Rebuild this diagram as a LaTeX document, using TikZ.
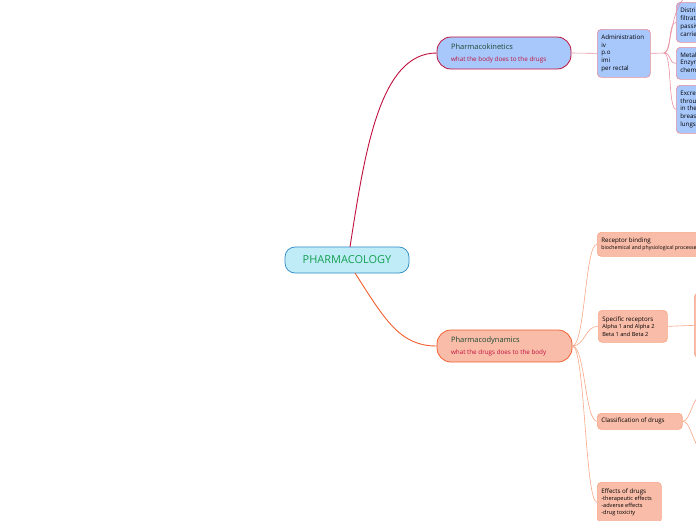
\documentclass[tikz,border=0pt]{standalone}
\usepackage{fontspec}
\setmainfont{Open Sans}
\begin{document}
\begin{tikzpicture}[x=1pt,y=-1pt,
  kbox/.style={draw=pkline,fill=kfill,rounded corners=4pt,line width=0.7pt,inner xsep=4pt,inner ysep=3pt,align=flush left,anchor=north west,font=\fontsize{6.2}{7.8}\selectfont},
  dbox/.style={draw=dline,fill=dfill,rounded corners=4pt,line width=0.7pt,inner xsep=4pt,inner ysep=3pt,align=flush left,anchor=north west,font=\fontsize{6.2}{7.8}\selectfont},
  kedge/.style={draw=pkline,line width=0.6pt},
  dedge/.style={draw=dline,line width=0.6pt}]
\definecolor{kfill}{HTML}{A8C8FC}
\definecolor{pkline}{HTML}{E890A0}
\definecolor{dfill}{HTML}{F8BCA8}
\definecolor{dline}{HTML}{F8A888}
\definecolor{crim}{HTML}{C0103C}
\definecolor{orr}{HTML}{F06030}
\definecolor{tgreen}{HTML}{1A4A30}
\definecolor{tred}{HTML}{C0103C}
\useasboundingbox (0,0) rectangle (696,520);
\clip (0,0) rectangle (696,520);
\fill[white] (0,0) rectangle (696,520);
% root
\node[draw={rgb,255:red,42;green,138;blue,200},fill={rgb,255:red,192;green,236;blue,248},rounded corners=10pt,line width=0.7pt,minimum width=124pt,minimum height=26pt,font=\fontsize{11}{12}\selectfont,text={rgb,255:red,20;green,160;blue,80}] (root) at (347,260) {PHARMACOLOGY};
% main branches
\node[draw=crim,fill=kfill,rounded corners=14pt,line width=0.8pt,minimum height=32pt,text width=106pt,inner xsep=14pt,align=flush left] (pk) at (504,53) {\fontsize{7.5}{9.5}\selectfont\textcolor{tgreen}{Pharmacokinetics}\\\fontsize{6.3}{8}\selectfont\textcolor{tred}{what the body does to the drugs}};
\node[draw=orr,fill=dfill,rounded corners=14pt,line width=0.8pt,minimum height=32pt,text width=107pt,inner xsep=14pt,align=flush left] (pd) at (504.5,346) {\fontsize{7.5}{9.5}\selectfont\textcolor{tgreen}{Pharmacodynamics}\\\fontsize{6.3}{8}\selectfont\textcolor{tred}{what the drugs does to the body}};
\draw[crim,line width=0.9pt] (350,247) .. controls (365,150) and (380,53) .. (pk.west);
\draw[orr,line width=0.9pt] (355,273) .. controls (385,320) and (400,346) .. (pd.west);
% pk children
\node[kbox,text width=45pt,minimum height=48pt] (adm) at (597,29) {Administration\\iv\\p.o\\imi\\per rectal};
\draw[kedge] (pk.east) -- (adm.west);
\node[kbox,text width=60pt,minimum height=40pt] (dist) at (676,2) {Distribution\\filtration\\passive diffusion\\carrier-mediated};
\node[kbox,text width=60pt,minimum height=32pt] (met) at (676,47) {Metabolism\\Enzymes\\chemical changes};
\node[kbox,text width=60pt,minimum height=48pt] (exc) at (676,85) {Excretion\\through urine\\in the faeces\\breast milk\\lungs};
\coordinate (upb) at (690,-5);
\draw[kedge] (adm.east) -- (664,53) .. controls (672,53) and (670,0) .. (upb);
\draw[kedge] (664,53) .. controls (672,53) and (668,22) .. (dist.west);
\draw[kedge] (664,53) .. controls (672,53) and (668,63) .. (met.west);
\draw[kedge] (664,53) .. controls (672,53) and (668,109) .. (exc.west);
% pd children
\node[dbox,text width=110pt,minimum height=24pt] (rb) at (597,232) {Receptor binding\\\fontsize{5.2}{6.5}\selectfont biochemical and physiological processes};
\node[dbox,text width=61pt,minimum height=32pt] (sr) at (598,310) {Specific receptors\\\fontsize{5.6}{7}\selectfont Alpha 1 and Alpha 2\\\fontsize{5.6}{7}\selectfont Beta 1 and Beta 2};
\node[dbox,minimum width=30pt,minimum height=64pt] (big) at (694,293) {};
\node[dbox,text width=77pt,minimum height=16pt] (cl) at (597,413) {Classification of drugs};
\node[dbox,text width=56pt,minimum height=40pt] (ef) at (597,482) {Effects of drugs\\\fontsize{5.6}{7}\selectfont -therapeutic effects\\\fontsize{5.6}{7}\selectfont -adverse effects\\\fontsize{5.6}{7}\selectfont -drug toxicity};
\draw[dedge] (pd.east) .. controls (585,346) and (585,244) .. (rb.west);
\draw[dedge] (pd.east) .. controls (585,346) and (585,326) .. (sr.west);
\draw[dedge] (pd.east) .. controls (585,346) and (585,421) .. (cl.west);
\draw[dedge] (pd.east) .. controls (585,346) and (585,502) .. (ef.west);
\draw[dedge] (sr.east) -- (big.west);
\coordinate (clu) at (700,395);
\coordinate (cld) at (700,450);
\draw[dedge] (cl.east) .. controls (690,421) and (692,400) .. (clu);
\draw[dedge] (cl.east) .. controls (690,421) and (692,440) .. (cld);
\end{tikzpicture}
\end{document}
